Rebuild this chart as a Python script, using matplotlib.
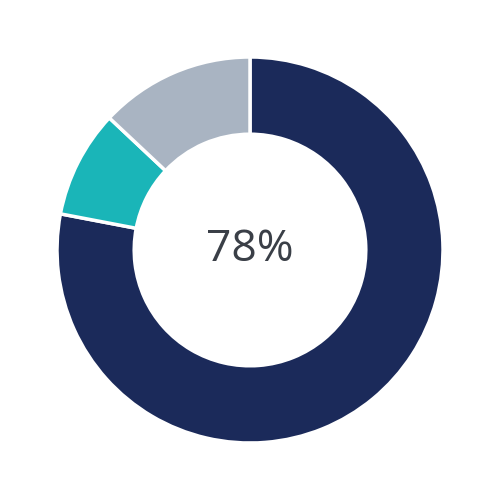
import matplotlib
matplotlib.use("Agg")
import matplotlib.pyplot as plt

labels = ["A", "B", "C"]
values = [78, 9, 13]
colors = ["#1b2a5a", "#1ab5b8", "#a9b4c2"]
center_text = "78%"

fig = plt.figure(figsize=(5, 5), dpi=100)
ax = fig.add_axes([0, 0, 1, 1])
ax.pie(values, colors=colors, startangle=90, counterclock=False, radius=1,
       wedgeprops=dict(width=0.4, edgecolor="white", linewidth=2.5))
lim = 250 / 193
ax.set_xlim(-lim, lim)
ax.set_ylim(-lim, lim)
ax.set_aspect("equal")
ax.axis("off")
ax.text(0, 0, center_text, ha="center", va="center", fontsize=32, color="#3a3f47",
        family="Open Sans")
fig.savefig("out.png", dpi=100)
